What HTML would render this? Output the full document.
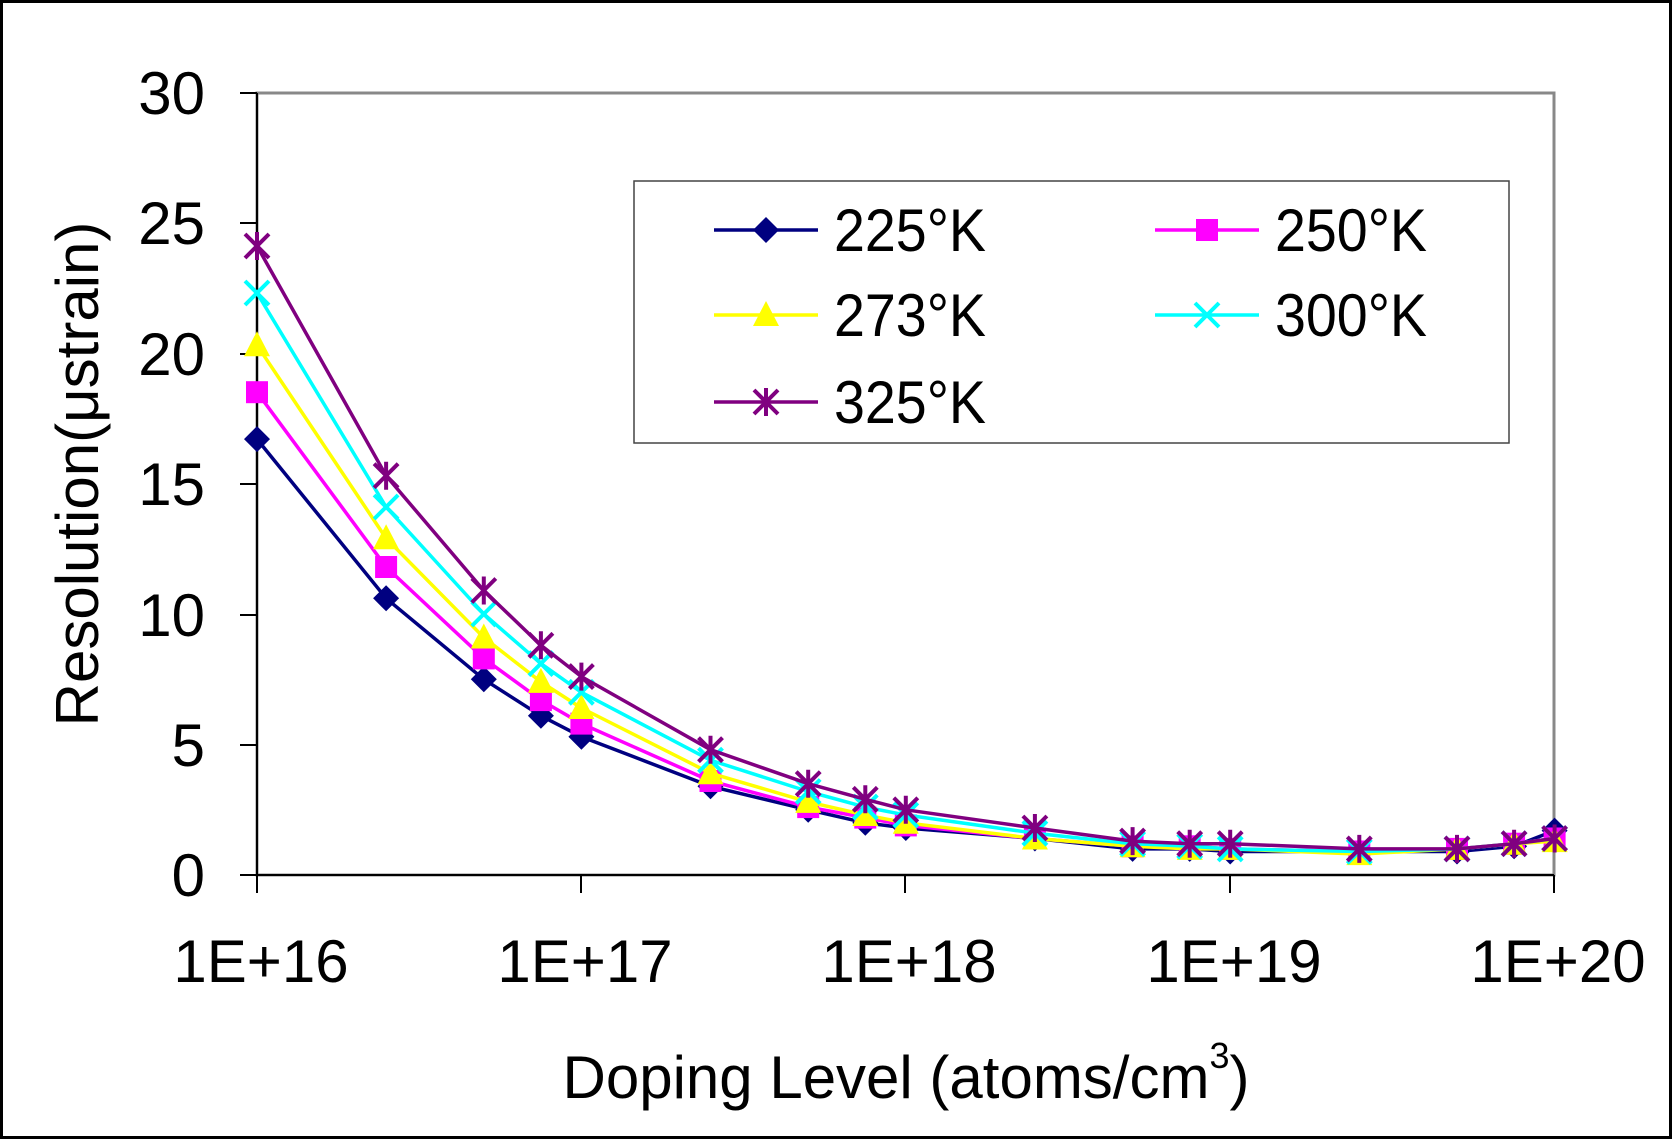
<!DOCTYPE html>
<html><head><meta charset="utf-8"><style>
html,body{margin:0;padding:0;background:#fff}
svg{display:block}
text{font-family:"Liberation Sans",Arial,sans-serif;fill:#000}
</style></head><body>
<svg width="1672" height="1139" viewBox="0 0 1672 1139" xmlns="http://www.w3.org/2000/svg">
<defs>
<marker id="md" markerUnits="userSpaceOnUse" markerWidth="30" markerHeight="30" refX="15" refY="15" overflow="visible"><polygon points="15,2 28,15 15,28 2,15" fill="#000080"/></marker>
<marker id="ms" markerUnits="userSpaceOnUse" markerWidth="30" markerHeight="30" refX="15" refY="15" overflow="visible"><rect x="4" y="4" width="22" height="22" fill="#ff00ff"/></marker>
<marker id="mt" markerUnits="userSpaceOnUse" markerWidth="30" markerHeight="30" refX="15" refY="15" overflow="visible"><polygon points="15,1 28,26 2,26" fill="#ffff00"/></marker>
<marker id="mx" markerUnits="userSpaceOnUse" markerWidth="30" markerHeight="30" refX="15" refY="15" overflow="visible"><path d="M3,3L27,27M27,3L3,27" stroke="#00ffff" stroke-width="4"/></marker>
<marker id="ma" markerUnits="userSpaceOnUse" markerWidth="30" markerHeight="30" refX="15" refY="15" overflow="visible"><path d="M3,3L27,27M27,3L3,27M15,1L15,29" stroke="#800080" stroke-width="4"/></marker>
</defs>
<rect x="1.5" y="1.5" width="1669" height="1136" fill="#fff" stroke="#000" stroke-width="3"/>
<rect x="257" y="93" width="1297" height="782" fill="none" stroke="#888" stroke-width="3"/>
<line x1="257" y1="93" x2="257" y2="875" stroke="#000" stroke-width="2"/>
<line x1="257" y1="875" x2="1554" y2="875" stroke="#000" stroke-width="2"/>
<g stroke="#000" stroke-width="2">
<line x1="240" y1="93" x2="257" y2="93"/><line x1="240" y1="223" x2="257" y2="223"/><line x1="240" y1="354" x2="257" y2="354"/><line x1="240" y1="484" x2="257" y2="484"/><line x1="240" y1="615" x2="257" y2="615"/><line x1="240" y1="745" x2="257" y2="745"/><line x1="240" y1="875" x2="257" y2="875"/>
<line x1="257" y1="875" x2="257" y2="893"/><line x1="581" y1="875" x2="581" y2="893"/><line x1="905" y1="875" x2="905" y2="893"/><line x1="1230" y1="875" x2="1230" y2="893"/><line x1="1554" y1="875" x2="1554" y2="893"/>
</g>
<g font-size="60" text-anchor="end">
<text x="205" y="114">30</text><text x="205" y="244">25</text><text x="205" y="375">20</text><text x="205" y="505">15</text><text x="205" y="636">10</text><text x="205" y="766">5</text><text x="205" y="896">0</text>
</g>
<g font-size="60" text-anchor="middle">
<text x="261" y="982">1E+16</text><text x="585" y="982">1E+17</text><text x="909" y="982">1E+18</text><text x="1234" y="982">1E+19</text><text x="1558" y="982">1E+20</text>
</g>
<text x="906" y="1098" font-size="60" text-anchor="middle">Doping Level (atoms/cm<tspan font-size="36" dy="-30">3</tspan><tspan dy="30">)</tspan></text>
<text transform="translate(98,474) rotate(-90)" font-size="60" text-anchor="middle">Resolution(μstrain)</text>
<g fill="none" stroke-width="3.5" stroke-linejoin="round">
<polyline stroke="#000080" marker-start="url(#md)" marker-mid="url(#md)" marker-end="url(#md)" points="257,439.1 386.1,598.3 483.8,679.3 540.9,715.8 581.4,736.7 710.5,786.3 808.2,809.8 865.3,822.8 905.8,828 1034.9,838.5 1132.6,848.9 1189.7,848.9 1230.2,851.5 1359.3,851.5 1457,851.5 1514.1,846.3 1554.6,830.6"/>
<polyline stroke="#ff00ff" marker-start="url(#ms)" marker-mid="url(#ms)" marker-end="url(#ms)" points="257,392.2 386.1,567 483.8,658.4 540.9,700.1 581.4,723.6 710.5,781 808.2,807.1 865.3,817.6 905.8,825.4 1034.9,838.5 1132.6,846.3 1189.7,846.3 1230.2,848.9 1359.3,851.5 1457,848.9 1514.1,843.7 1554.6,838.5"/>
<polyline stroke="#ffff00" marker-start="url(#mt)" marker-mid="url(#mt)" marker-end="url(#mt)" points="257,345.2 386.1,538.3 483.8,637.5 540.9,681.9 581.4,708 710.5,773.2 808.2,801.9 865.3,815 905.8,822.8 1034.9,838.5 1132.6,846.3 1189.7,848.9 1230.2,848.9 1359.3,854.1 1457,848.9 1514.1,843.7 1554.6,841.1"/>
<polyline stroke="#00ffff" marker-start="url(#mx)" marker-mid="url(#mx)" marker-end="url(#mx)" points="257,293 386.1,507 483.8,614 540.9,663.6 581.4,692.3 710.5,760.2 808.2,791.5 865.3,807.1 905.8,815 1034.9,833.2 1132.6,843.7 1189.7,846.3 1230.2,848.9 1359.3,851.5 1457,848.9 1514.1,843.7 1554.6,838.5"/>
<polyline stroke="#800080" marker-start="url(#ma)" marker-mid="url(#ma)" marker-end="url(#ma)" points="257,246 386.1,475.7 483.8,590.5 540.9,645.3 581.4,676.6 710.5,749.7 808.2,783.7 865.3,799.3 905.8,809.8 1034.9,828 1132.6,841.1 1189.7,843.7 1230.2,843.7 1359.3,848.9 1457,848.9 1514.1,843.7 1554.6,838.5"/>
</g>
<rect x="634" y="181" width="875" height="262" fill="#fff" stroke="#444" stroke-width="1.5"/>
<g fill="none" stroke-width="3.5">
<polyline stroke="#000080" marker-mid="url(#md)" points="714,230 766,230 818,230"/>
<polyline stroke="#ff00ff" marker-mid="url(#ms)" points="1155,230 1207,230 1259,230"/>
<polyline stroke="#ffff00" marker-mid="url(#mt)" points="714,315 766,315 818,315"/>
<polyline stroke="#00ffff" marker-mid="url(#mx)" points="1155,315 1207,315 1259,315"/>
<polyline stroke="#800080" marker-mid="url(#ma)" points="714,402 766,402 818,402"/>
</g>
<g font-size="60">
<text x="834" y="251" textLength="152" lengthAdjust="spacingAndGlyphs">225°K</text>
<text x="1275" y="251" textLength="152" lengthAdjust="spacingAndGlyphs">250°K</text>
<text x="834" y="336" textLength="152" lengthAdjust="spacingAndGlyphs">273°K</text>
<text x="1275" y="336" textLength="152" lengthAdjust="spacingAndGlyphs">300°K</text>
<text x="834" y="423" textLength="152" lengthAdjust="spacingAndGlyphs">325°K</text>
</g>
</svg>
</body></html>
